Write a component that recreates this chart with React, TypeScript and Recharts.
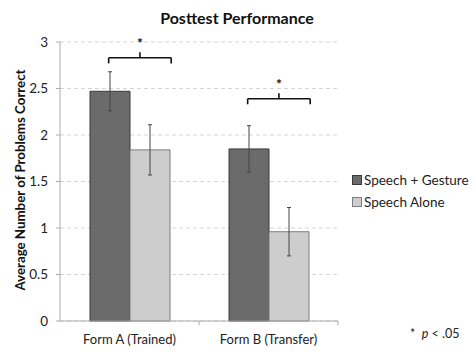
import React from 'react';
import { ComposedChart, Bar, XAxis, YAxis, CartesianGrid, ErrorBar, ReferenceLine, ReferenceDot } from 'recharts';

const categories = ['Form A (Trained)', 'Form B (Transfer)'];
const speechGesture = [2.47, 1.85];
const speechGestureErr = [0.21, 0.25];
const speechAlone = [1.84, 0.96];
const speechAloneErr = [0.27, 0.26];
const yTicks = [0, 0.5, 1, 1.5, 2, 2.5, 3];
const seriesNames = ['Speech + Gesture', 'Speech Alone'];

// significance brackets in numeric category units (0..2)
const brackets = [
  { x1: 0.35, x2: 0.8, y: 2.83, drop: 0.06, rise: 0.06, starX: 0.575, starY: 2.99 },
  { x1: 1.35, x2: 1.8, y: 2.39, drop: 0.06, rise: 0.06, starX: 1.575, starY: 2.55 },
];

const data = categories.map((c, i) => ({
  name: c,
  pos: i + 0.5,
  sg: speechGesture[i],
  sgErr: speechGestureErr[i],
  sa: speechAlone[i],
  saErr: speechAloneErr[i],
}));

const DARK = '#6b6b6b';
const DARK_STROKE = '#3a3a3a';
const LIGHT = '#cdcdcd';
const LIGHT_STROKE = '#7c7c7c';
const FONT = 'Lato, "Open Sans", sans-serif';

export default function App() {
  const lines: any[] = [];
  brackets.forEach((b, i) => {
    lines.push(
      <ReferenceLine key={`h${i}`} xAxisId="num" segment={[{ x: b.x1, y: b.y }, { x: b.x2, y: b.y }]} stroke="#111" strokeWidth={1.6} ifOverflow="visible" />,
      <ReferenceLine key={`l${i}`} xAxisId="num" segment={[{ x: b.x1, y: b.y }, { x: b.x1, y: b.y - b.drop }]} stroke="#111" strokeWidth={1.6} ifOverflow="visible" />,
      <ReferenceLine key={`r${i}`} xAxisId="num" segment={[{ x: b.x2, y: b.y }, { x: b.x2, y: b.y - b.drop }]} stroke="#111" strokeWidth={1.6} ifOverflow="visible" />,
      <ReferenceLine key={`c${i}`} xAxisId="num" segment={[{ x: (b.x1 + b.x2) / 2, y: b.y }, { x: (b.x1 + b.x2) / 2, y: b.y + b.rise }]} stroke="#111" strokeWidth={1.6} ifOverflow="visible" />,
      <ReferenceDot key={`s${i}`} xAxisId="num" x={b.starX} y={b.starY} r={0} ifOverflow="visible"
        label={{ value: '*', position: 'center', fill: '#111', fontSize: 14, fontWeight: 700, fontFamily: FONT }} />
    );
  });
  // category boundary tick marks on x axis
  [1, 2].forEach((t) => {
    lines.push(
      <ReferenceLine key={`t${t}`} xAxisId="num" segment={[{ x: t, y: 0 }, { x: t, y: -0.045 }]} stroke="#aaaaaa" strokeWidth={1} ifOverflow="visible" />
    );
  });

  return (
    <div style={{ position: 'absolute', left: 0, top: 0, width: 474, height: 353, background: '#fff', fontFamily: FONT }}>
      <ComposedChart width={474} height={353} data={data} margin={{ top: 42, right: 136, bottom: 0, left: 0 }} barGap={0}>
        <CartesianGrid horizontal vertical={false} stroke="#d6d6d6" strokeDasharray="4 3" />
        <XAxis dataKey="name" xAxisId={0} height={32} tickLine={false} tickSize={0} tickMargin={14}
          axisLine={{ stroke: '#aaaaaa' }} tick={{ fill: '#222', fontSize: 13, fontFamily: FONT }} />
        <XAxis xAxisId="num" type="number" dataKey="pos" domain={[0, 2]} allowDataOverflow hide />
        <YAxis domain={[0, 3]} ticks={yTicks} width={60} tickSize={4} tickMargin={8}
          axisLine={{ stroke: '#aaaaaa' }} tickLine={{ stroke: '#aaaaaa' }}
          tick={{ fill: '#222', fontSize: 13.5, fontFamily: FONT }} interval={0} />
        <Bar dataKey="sg" xAxisId={0} name={seriesNames[0]} fill={DARK} stroke={DARK_STROKE} strokeWidth={1} barSize={40} isAnimationActive={false}>
          <ErrorBar dataKey="sgErr" width={2} stroke="#444" strokeWidth={1} />
        </Bar>
        <Bar dataKey="sa" xAxisId={0} name={seriesNames[1]} fill={LIGHT} stroke={LIGHT_STROKE} strokeWidth={1} barSize={40} isAnimationActive={false}>
          <ErrorBar dataKey="saErr" width={2} stroke="#444" strokeWidth={1} />
        </Bar>
        {lines}
      </ComposedChart>

      <div style={{ position: 'absolute', left: 0, width: 474, top: 8, textAlign: 'center', fontWeight: 700, fontSize: 16, color: '#111' }}>
        Posttest Performance
      </div>
      <div style={{ position: 'absolute', left: 20, top: 180, width: 0, height: 0 }}>
        <div style={{ position: 'absolute', left: 0, top: 0, transform: 'translate(-50%, -50%) rotate(-90deg)', whiteSpace: 'nowrap', fontWeight: 700, fontSize: 13.3, color: '#111' }}>
          Average Number of Problems Correct
        </div>
      </div>
      {seriesNames.map((n, i) => (
        <div key={n} style={{ position: 'absolute', left: 352, top: 172 + i * 22, display: 'flex', alignItems: 'center', fontSize: 13.5, color: '#222', whiteSpace: 'nowrap' }}>
          <span style={{ display: 'inline-block', width: 8, height: 8, background: i === 0 ? DARK : LIGHT, border: `1px solid ${i === 0 ? DARK_STROKE : LIGHT_STROKE}`, marginRight: 2 }} />
          <span>{n}</span>
        </div>
      ))}
      <div style={{ position: 'absolute', left: 410, top: 326, fontSize: 12.5, color: '#222', whiteSpace: 'nowrap' }}>
        <span>*</span>&nbsp;&nbsp;<i>p</i> &lt; .05
      </div>
    </div>
  );
}
